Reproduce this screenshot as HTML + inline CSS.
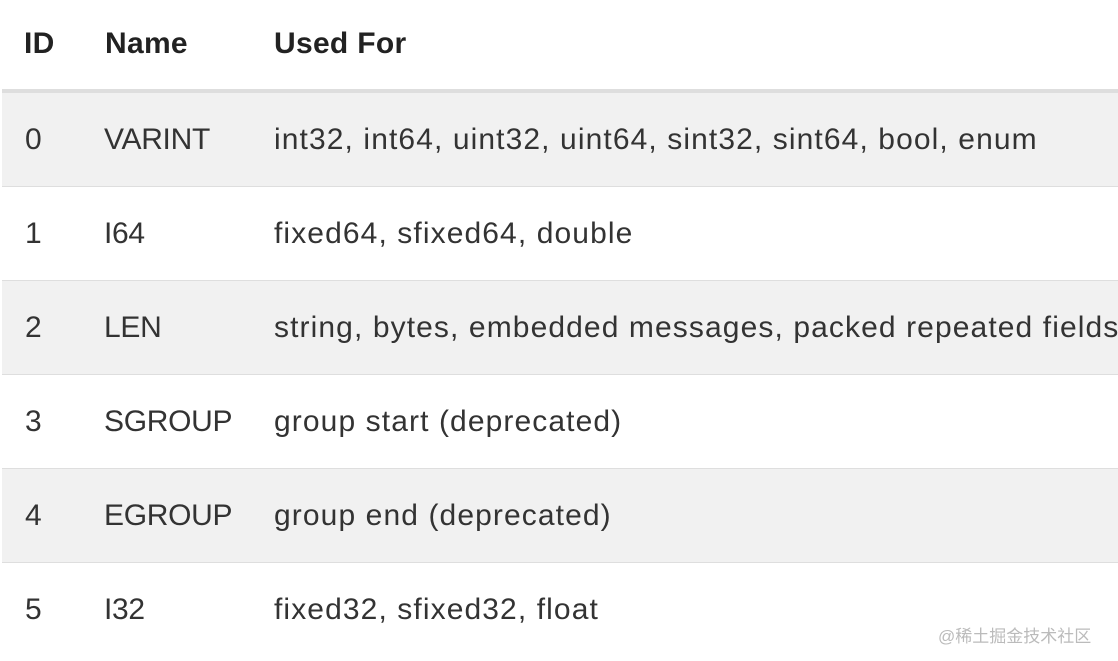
<!DOCTYPE html>
<html><head><style>
body{margin:0;width:1118px;height:661px;background:#fff;font-family:"Liberation Sans",sans-serif;color:#333;position:relative;overflow:hidden}
.r{position:absolute;left:2px;width:1116px;height:93px}
.g{background:#f1f1f1}
.t{position:absolute;font-size:30px;letter-spacing:1.1px;white-space:nowrap;line-height:1}
.n{letter-spacing:-0.3px}
.h{font-weight:bold;color:#222;letter-spacing:0.3px}
.l{position:absolute;left:2px;width:1116px;background:#dedede}
</style></head><body>
<div class="t h" style="left:24px;top:29px">ID</div>
<div class="t h" style="left:105px;top:29px">Name</div>
<div class="t h" style="left:274px;top:29px">Used For</div>
<div class="l" style="top:89px;height:4px"></div>
<div class="r g" style="top:93px"></div>
<div class="l" style="top:186px;height:1px"></div>
<div class="l" style="top:280px;height:1px"></div>
<div class="r g" style="top:281px"></div>
<div class="l" style="top:374px;height:1px"></div>
<div class="l" style="top:468px;height:1px"></div>
<div class="r g" style="top:469px"></div>
<div class="l" style="top:562px;height:1px"></div>

<div class="t" style="left:25px;top:125px">0</div><div class="t n" style="left:104px;top:125px">VARINT</div><div class="t" style="left:274px;top:125px">int32, int64, uint32, uint64, sint32, sint64, bool, enum</div>
<div class="t" style="left:25px;top:219px">1</div><div class="t n" style="left:104px;top:219px">I64</div><div class="t" style="left:274px;top:219px">fixed64, sfixed64, double</div>
<div class="t" style="left:25px;top:313px">2</div><div class="t n" style="left:104px;top:313px">LEN</div><div class="t" style="left:274px;top:313px">string, bytes, embedded messages, packed repeated fields</div>
<div class="t" style="left:25px;top:407px">3</div><div class="t n" style="left:104px;top:407px">SGROUP</div><div class="t" style="left:274px;top:407px">group start (deprecated)</div>
<div class="t" style="left:25px;top:501px">4</div><div class="t n" style="left:104px;top:501px">EGROUP</div><div class="t" style="left:274px;top:501px">group end (deprecated)</div>
<div class="t" style="left:25px;top:595px">5</div><div class="t n" style="left:104px;top:595px">I32</div><div class="t" style="left:274px;top:595px">fixed32, sfixed32, float</div>
<div style="position:absolute;left:938px;top:622px;font-size:17px;color:#bbb;font-family:'Liberation Sans','Noto Sans CJK SC',sans-serif">@稀土掘金技术社区</div>
</body></html>
